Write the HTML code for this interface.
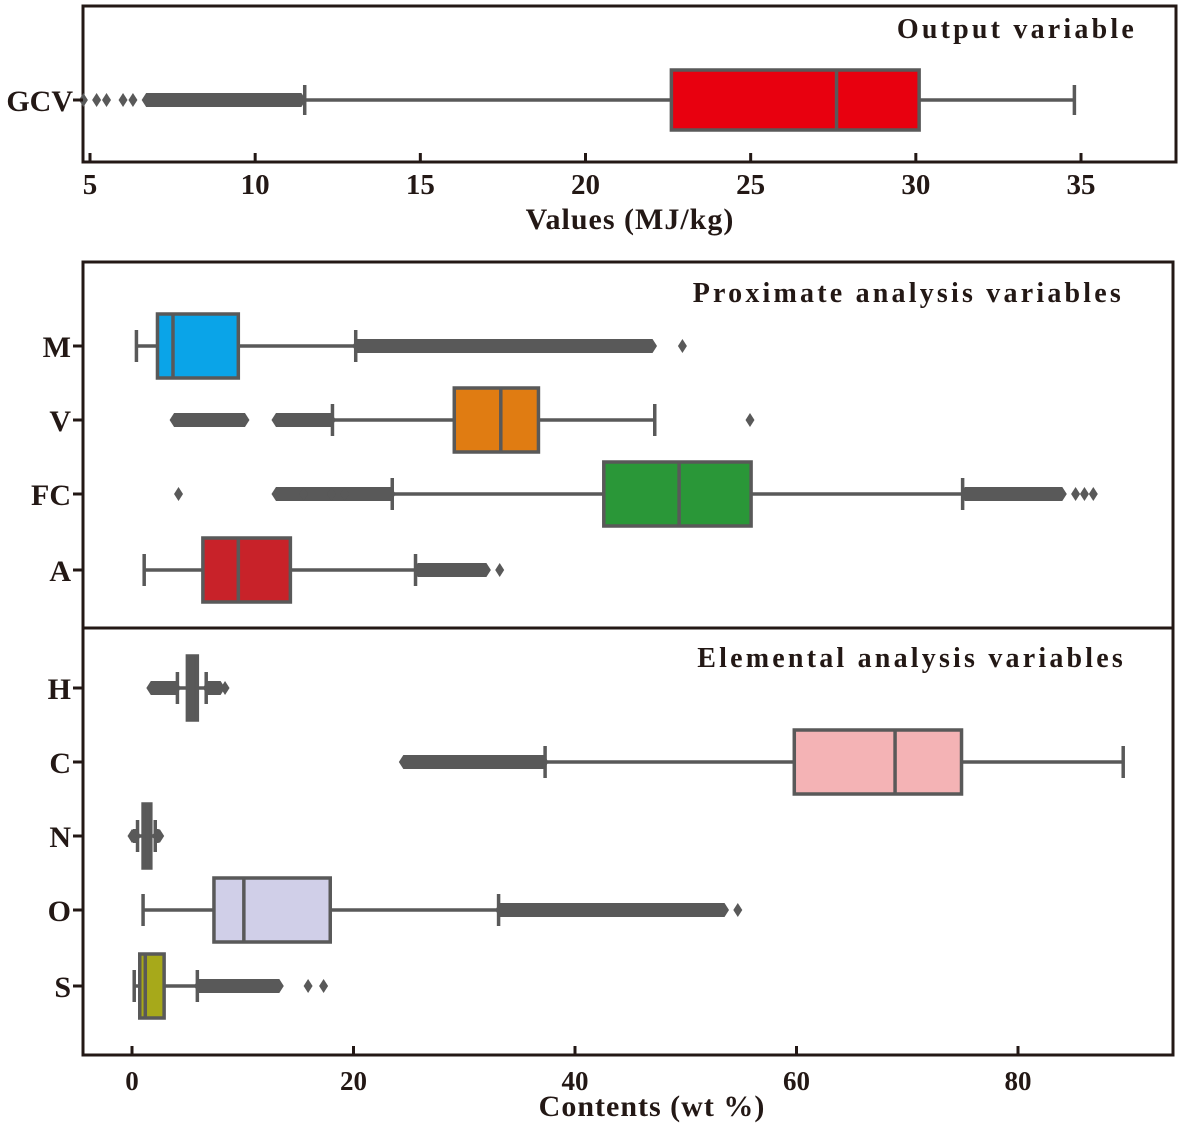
<!DOCTYPE html>
<html><head><meta charset="utf-8"><style>
html,body{margin:0;padding:0;background:#fff}
svg{display:block}
text{font-family:"Liberation Serif",serif;font-weight:bold;fill:#231815}
</style></head><body>
<svg id="chart" width="1180" height="1126" viewBox="0 0 1180 1126" xmlns="http://www.w3.org/2000/svg"></svg>
<script>
// ---- data ----
const topCategories = ["GCV"];
const topTicks = [5,10,15,20,25,30,35];
const botTicks = [0,20,40,60,80];
const categories = ["M","V","FC","A","H","C","N","O","S"];
// [whiskerLow, q1, median, q3, whiskerHigh]
const gcvStats = [11.5,22.6,27.6,30.1,34.8];
const gcvDense = [[6.7,11.4]];
const gcvSparse = [4.8,5.2,5.5,6.0,6.3];
const stats = {
  M:[0.4,2.3,3.7,9.6,20.2], V:[18.1,29.1,33.3,36.7,47.2], FC:[23.5,42.6,49.4,55.9,75.0],
  A:[1.1,6.4,9.6,14.3,25.6], H:[4.1,5.0,5.5,5.9,6.7], C:[37.3,59.8,68.9,74.9,89.5],
  N:[0.5,1.0,1.4,1.7,2.1], O:[1.0,7.4,10.1,17.9,33.1], S:[0.2,0.7,1.2,2.9,5.9]
};
const denseOutliers = {
  M:[[20.3,47.0]], V:[[3.8,10.2],[13.0,18.0]], FC:[[13.0,23.4],[75.2,84.0]],
  A:[[25.8,32.0]], H:[[1.7,4.0],[6.8,8.0]], C:[[24.5,37.2]], N:[[0.1,0.4],[2.2,2.4]],
  O:[[33.2,53.5]], S:[[6.0,13.3]]
};
const sparseOutliers = {
  M:[49.7], V:[55.8], FC:[4.2,15.5,18.0,19.2,85.2,86.0,86.8], A:[33.2], H:[8.4], C:[],
  N:[0.0,2.5], O:[54.7], S:[15.9,17.3]
};
const colors = {M:"#0aa4e8",V:"#e07c12",FC:"#2a9738",A:"#c82229",H:"#595959",C:"#f4b3b5",N:"#595959",O:"#d0cfe8",S:"#a7a91a"};
// ---- scales ----
const xTop = v => 90 + (v-5)*(1081-90)/30;
const xBot = v => 132 + v*(1018-132)/80;
const rowY = {M:346,V:420,FC:494,A:570,H:688,C:762,N:836,O:910,S:986};
const NS="http://www.w3.org/2000/svg";
const svg=document.getElementById('chart');
function mk(tag,attrs,parent){const e=document.createElementNS(NS,tag);for(const k in attrs)e.setAttribute(k,attrs[k]);(parent||svg).appendChild(e);return e;}
const LC="#595959";
const SW=3.5;
function diamond(g,x,y){const p=mk('polygon',{points:`${x-4.5},${y} ${x},${y-7} ${x+4.5},${y} ${x},${y+7}`,fill:LC},g);

}
function drawBox(name,s,dense,sparse,sx,y,h,fill){
  const g=mk('g',{});
  
  
  mk('line',{x1:sx(s[0]),x2:sx(s[1]),y1:y,y2:y,stroke:LC,'stroke-width':SW},g);
  mk('line',{x1:sx(s[3]),x2:sx(s[4]),y1:y,y2:y,stroke:LC,'stroke-width':SW},g);
  mk('line',{x1:sx(s[0]),x2:sx(s[0]),y1:y-h/4,y2:y+h/4,stroke:LC,'stroke-width':SW},g);
  mk('line',{x1:sx(s[4]),x2:sx(s[4]),y1:y-h/4,y2:y+h/4,stroke:LC,'stroke-width':SW},g);
  mk('rect',{x:sx(s[1]),y:y-h/2,width:Math.max(2,sx(s[3])-sx(s[1])),height:h,fill:fill,stroke:LC,'stroke-width':SW},g);
  mk('line',{x1:sx(s[2]),x2:sx(s[2]),y1:y-h/2,y2:y+h/2,stroke:LC,'stroke-width':SW},g);
  dense.forEach(r=>{const a=sx(r[0]),b=sx(r[1]);
    const d=mk('polygon',{points:`${a-4.5},${y} ${a},${y-7} ${b},${y-7} ${b+4.5},${y} ${b},${y+7} ${a},${y+7}`,fill:LC},g);
    
    });
  sparse.forEach(v=>diamond(g,sx(v),y));
}
function txt(t,x,y,size,anchor,extra){const e=mk('text',Object.assign({x:x,y:y,'font-size':size,'text-anchor':anchor},extra||{}));e.textContent=t;return e;}
// ---- top panel ----
const f1=mk('rect',{x:83,y:6,width:1093,height:156,fill:'none',stroke:'#231815','stroke-width':3});


drawBox('GCV',gcvStats,gcvDense,gcvSparse,xTop,100,60,'#e8000f');
mk('line',{x1:73,x2:83,y1:100,y2:100,stroke:'#231815','stroke-width':3});
let e=txt('GCV',73,111,30,'end');


topTicks.forEach(v=>{mk('line',{x1:xTop(v),x2:xTop(v),y1:153,y2:162,stroke:'#231815','stroke-width':3});
  const t=txt(String(v),xTop(v),194,29,'middle');
  
  });
e=txt('Values (MJ/kg)',630,229,30,'middle',{'letter-spacing':'1'});


e=txt('Output variable',1137,38,28,'end',{'letter-spacing':'3.2'});


// ---- bottom panel ----
const f2=mk('rect',{x:83,y:262,width:1090,height:793,fill:'none',stroke:'#231815','stroke-width':3});


mk('line',{x1:83,x2:1173,y1:628,y2:628,stroke:'#231815','stroke-width':3});
categories.forEach(c=>{
  drawBox(c,stats[c],denseOutliers[c],sparseOutliers[c],xBot,rowY[c],64,colors[c]);
  mk('line',{x1:73,x2:83,y1:rowY[c],y2:rowY[c],stroke:'#231815','stroke-width':3});
  const t=txt(c,71,rowY[c]+11,30,'end');
  
  
});
botTicks.forEach(v=>{mk('line',{x1:xBot(v),x2:xBot(v),y1:1046,y2:1055,stroke:'#231815','stroke-width':3});
  const t=txt(String(v),xBot(v),1090,27,'middle');
  
  });
e=txt('Contents (wt %)',652,1116,30,'middle',{'letter-spacing':'1'});


e=txt('Proximate analysis variables',1124,302,28,'end',{'letter-spacing':'3.2'});


e=txt('Elemental analysis variables',1126,667,28,'end',{'letter-spacing':'3.2'});


</script>
</body></html>
